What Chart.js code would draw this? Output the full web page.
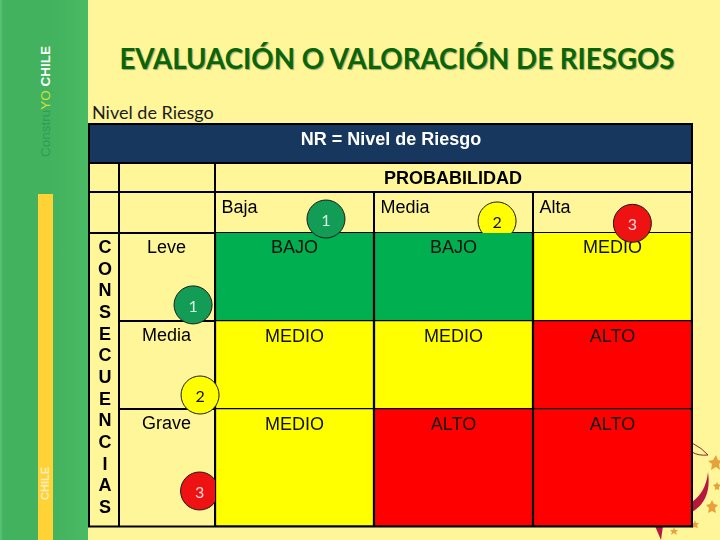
<!DOCTYPE html>
<html>
<head>
<meta charset="utf-8">
<title>Evaluación de riesgos</title>
<script src="https://cdn.jsdelivr.net/npm/chart.js@4/dist/chart.umd.min.js"></script>
<style>
html, body { margin: 0; padding: 0; }
body { width: 720px; height: 540px; overflow: hidden; position: relative; background: #fff599; }
#side { position: absolute; left: 0; top: 0; width: 88px; height: 540px;
  background: linear-gradient(90deg, #5cc47a 0, #43b25e 3px, #43b25e 50px, #4aba64 88px); }
#strip { position: absolute; left: 38px; top: 194px; width: 15px; height: 346px; background: #ffd236; }
.vert { position: absolute; writing-mode: vertical-rl; transform: rotate(180deg); font-family: "Liberation Sans", sans-serif; white-space: nowrap; }
#brand { left: 38px; top: 46px; font-size: 13.5px; line-height: 15px; color: #2f9c57; }
#brand i { font-style: normal; color: #cfe03a; }
#brand b { color: #fff; }
#chile { left: 40px; top: 467px; font-size: 11px; line-height: 11px; font-weight: bold; color: #fbeec0; }
#title { position: absolute; left: 88px; width: 618px; top: 41px; margin: 0; text-align: center;
  font: bold 27.7px Lato, sans-serif; line-height: 36px; color: #0a650a; text-shadow: 1px 1px 1px #9aa56a; }
#sub { position: absolute; left: 92px; top: 100px; margin: 0; font: 18px Lato, sans-serif; line-height: 24px; color: #1c1c1c; }
#deco { position: absolute; left: 0; top: 0; }
#chart { position: absolute; left: 0; top: 0; }
</style>
</head>
<body>
<div id="side"></div>
<div id="strip"></div>
<div id="brand" class="vert">Constru<i>YO</i> <b>CHILE</b></div>
<div id="chile" class="vert">CHILE</div>
<svg id="deco" width="720" height="540">
  <path d="M692 502 Q706 492 708 472 Q712 500 692 512 Z" fill="#b5173f"/>
  <path d="M692 443 Q702 448 708 455 Q698 456 692 452" fill="none" stroke="#8a2a2a" stroke-width="1"/>
  <path d="M655 526 L663 526 L661 540 Z" fill="#b5173f"/>
  <g fill="#e6a23c">
    <path d="M716 455 l2 5 5 1 -4 3 1 6 -4 -3 -5 3 1 -6 -4 -3 5 -1 z"/>
    <path d="M712 500 l2 4 4 1 -3 3 1 5 -4 -2 -4 2 1 -5 -3 -3 4 -1 z"/>
    <path d="M717 482 l1 2 3 1 -2 2 0 3 -2 -1 -2 1 0 -3 -2 -2 3 -1 z"/>
    <path d="M695 520 l1 3 3 0 -2 2 1 3 -3 -1 -3 1 1 -3 -2 -2 3 0 z"/>
    <path d="M674 527 l1 3 3 0 -2 2 1 3 -3 -2 -3 2 1 -3 -2 -2 3 0 z"/>
  </g>
</svg>
<h1 id="title">EVALUACIÓN O VALORACIÓN DE RIESGOS</h1>
<p id="sub">Nivel de Riesgo</p>
<canvas id="chart" width="720" height="540"></canvas>
<script>
var probabilidad = ['Baja', 'Media', 'Alta'];
var probabilidadPos = [0.5, 1.5, 2.5];
var consecuencia = ['Leve', 'Media', 'Grave'];
var leve = [3, 3, 3];
var media = [3, 3, 3];
var grave = [4, 4, 4];
var nivelLeve = ['BAJO', 'BAJO', 'MEDIO'];
var nivelMedia = ['MEDIO', 'MEDIO', 'ALTO'];
var nivelGrave = ['MEDIO', 'ALTO', 'ALTO'];
var consecuenciaLetras = ['C', 'O', 'N', 'S', 'E', 'C', 'U', 'E', 'N', 'C', 'I', 'A', 'S'];

// numbered circles, in scale units (probabilidad 0-3, consecuencia 0-10)
var circulosAbajo = [{x: 1.774, y: -0.41, n: '2'}, {x: -0.097, y: 8.79, n: '3'}];
var circulosArriba = [{x: 0.698, y: -0.477, n: '1'}, {x: 2.625, y: -0.33, n: '3'},
                      {x: -0.138, y: 2.45, n: '1'}, {x: -0.094, y: 5.52, n: '2'}];

var colores = {BAJO: '#00b050', MEDIO: '#ffff00', ALTO: '#ff0000'};
var coloresCirculo = {'1': '#129c55', '2': '#ffff00', '3': '#ee1212'};
var coloresNumero = {'1': '#d8f5e4', '2': '#111111', '3': '#ffd8d8'};
var font = '"Liberation Sans", Arial, sans-serif';

function fila(label, values, niveles) {
  return {
    label: label,
    data: values,
    niveles: niveles,
    order: 1,
    backgroundColor: niveles.map(function (n) { return colores[n]; }),
    borderColor: '#000',
    borderWidth: 1.5,
    barPercentage: 1,
    categoryPercentage: 1
  };
}

function circulos(label, puntos, order) {
  return {
    type: 'scatter',
    label: label,
    data: puntos,
    order: order,
    yAxisID: 'my',
    clip: false,
    showLine: false,
    pointRadius: 19,
    pointHoverRadius: 28, // widens the margin chart.js uses to cull points outside the area
    pointBorderWidth: 1,
    pointBorderColor: '#1a1a1a',
    pointBackgroundColor: puntos.map(function (p) { return coloresCirculo[p.n]; })
  };
}

var tablaPlugin = {
  id: 'tabla',
  beforeDraw: function (chart) {
    var c = chart.ctx, a = chart.chartArea, s = chart.scales.x, y = chart.scales.y;
    var izq = 89, col = 119, top = 124, navy = 163, prob = 192;
    c.save();
    c.fillStyle = '#17375e';
    c.fillRect(izq, top, a.right - izq, navy - top);
    c.strokeStyle = '#000';
    c.lineWidth = 2;
    c.beginPath();
    c.rect(izq, top, a.right - izq, a.bottom - top);
    [navy, prob, a.top].forEach(function (v) { c.moveTo(izq, v); c.lineTo(a.right, v); });
    c.moveTo(col, navy); c.lineTo(col, a.bottom);
    c.moveTo(a.left, navy); c.lineTo(a.left, a.bottom);
    [1, 2].forEach(function (v) {
      c.moveTo(s.getPixelForValue(v), prob); c.lineTo(s.getPixelForValue(v), a.top);
    });
    [leve[0], leve[0] + media[0]].forEach(function (v) {
      c.moveTo(col, y.getPixelForValue(v)); c.lineTo(a.left, y.getPixelForValue(v));
    });
    c.stroke();

    c.textAlign = 'center';
    c.textBaseline = 'middle';
    c.font = 'bold 18px ' + font;
    c.fillStyle = '#fff';
    c.fillText('NR = Nivel de Riesgo', 391, 140);
    c.fillStyle = '#000';
    c.fillText('PROBABILIDAD', 453, 179);
    consecuenciaLetras.forEach(function (l, i) {
      c.fillText(l, 105, a.top + 15 + i * 21.67);
    });
    c.restore();
  },
  afterDatasetDraw: function (chart, args) {
    var c = chart.ctx, ds = chart.data.datasets[args.index];
    c.save();
    c.textAlign = 'center';
    c.textBaseline = 'middle';
    if (ds.niveles) {
      c.font = '18px ' + font;
      c.fillStyle = '#111';
      args.meta.data.forEach(function (bar, i) {
        var p = bar.getProps(['x', 'base'], true);
        c.fillText(ds.niveles[i], p.x, p.base + 15.5);
      });
    } else {
      c.font = '16px Lato, sans-serif';
      args.meta.data.forEach(function (pt, i) {
        var n = ds.data[i].n;
        c.fillStyle = coloresNumero[n];
        c.fillText(n, pt.x, pt.y + 2);
      });
    }
    c.restore();
  }
};

new Chart(document.getElementById('chart').getContext('2d'), {
  type: 'bar',
  data: {
    labels: probabilidadPos,
    datasets: [
      circulos('Circulos abajo', circulosAbajo, 2),
      fila('Leve', leve, nivelLeve),
      fila('Media', media, nivelMedia),
      fila('Grave', grave, nivelGrave),
      circulos('Circulos arriba', circulosArriba, 0)
    ]
  },
  options: {
    responsive: false,
    animation: false,
    devicePixelRatio: 1,
    events: [],
    layout: { autoPadding: false, padding: { left: 119, right: 28, top: 192, bottom: 13.5 } },
    plugins: { legend: { display: false }, tooltip: { enabled: false }, title: { display: false } },
    scales: {
      x: {
        type: 'linear',
        position: 'top',
        stacked: true,
        min: 0,
        max: 3,
        offset: false,
        afterFit: function (s) { s.height = 41; s.paddingLeft = 0; s.paddingRight = 0; },
        afterBuildTicks: function (s) {
          s.ticks = probabilidadPos.map(function (v) { return {value: v}; });
        },
        border: { display: false },
        grid: { display: false, drawTicks: false },
        ticks: {
          color: '#000',
          font: { family: font, size: 18 },
          align: 'start',
          labelOffset: -73,
          padding: 14,
          maxRotation: 0,
          autoSkip: false,
          callback: function (v, i) { return probabilidad[i]; }
        }
      },
      y: {
        type: 'linear',
        reverse: true,
        stacked: true,
        min: 0,
        max: 10,
        afterFit: function (s) { s.width = 96; s.paddingTop = 0; s.paddingBottom = 0; },
        afterBuildTicks: function (s) {
          s.ticks = [0, leve[0], leve[0] + media[0]].map(function (v) { return {value: v}; });
        },
        border: { display: false },
        grid: { display: false, drawTicks: false },
        ticks: {
          color: '#000',
          font: { family: font, size: 18 },
          crossAlign: 'center',
          padding: 24,
          labelOffset: 15,
          autoSkip: false,
          callback: function (v, i) { return consecuencia[i]; }
        }
      },
      my: { type: 'linear', display: false, reverse: true, min: 0, max: 10 }
    }
  },
  plugins: [tablaPlugin]
});
</script>
</body>
</html>
